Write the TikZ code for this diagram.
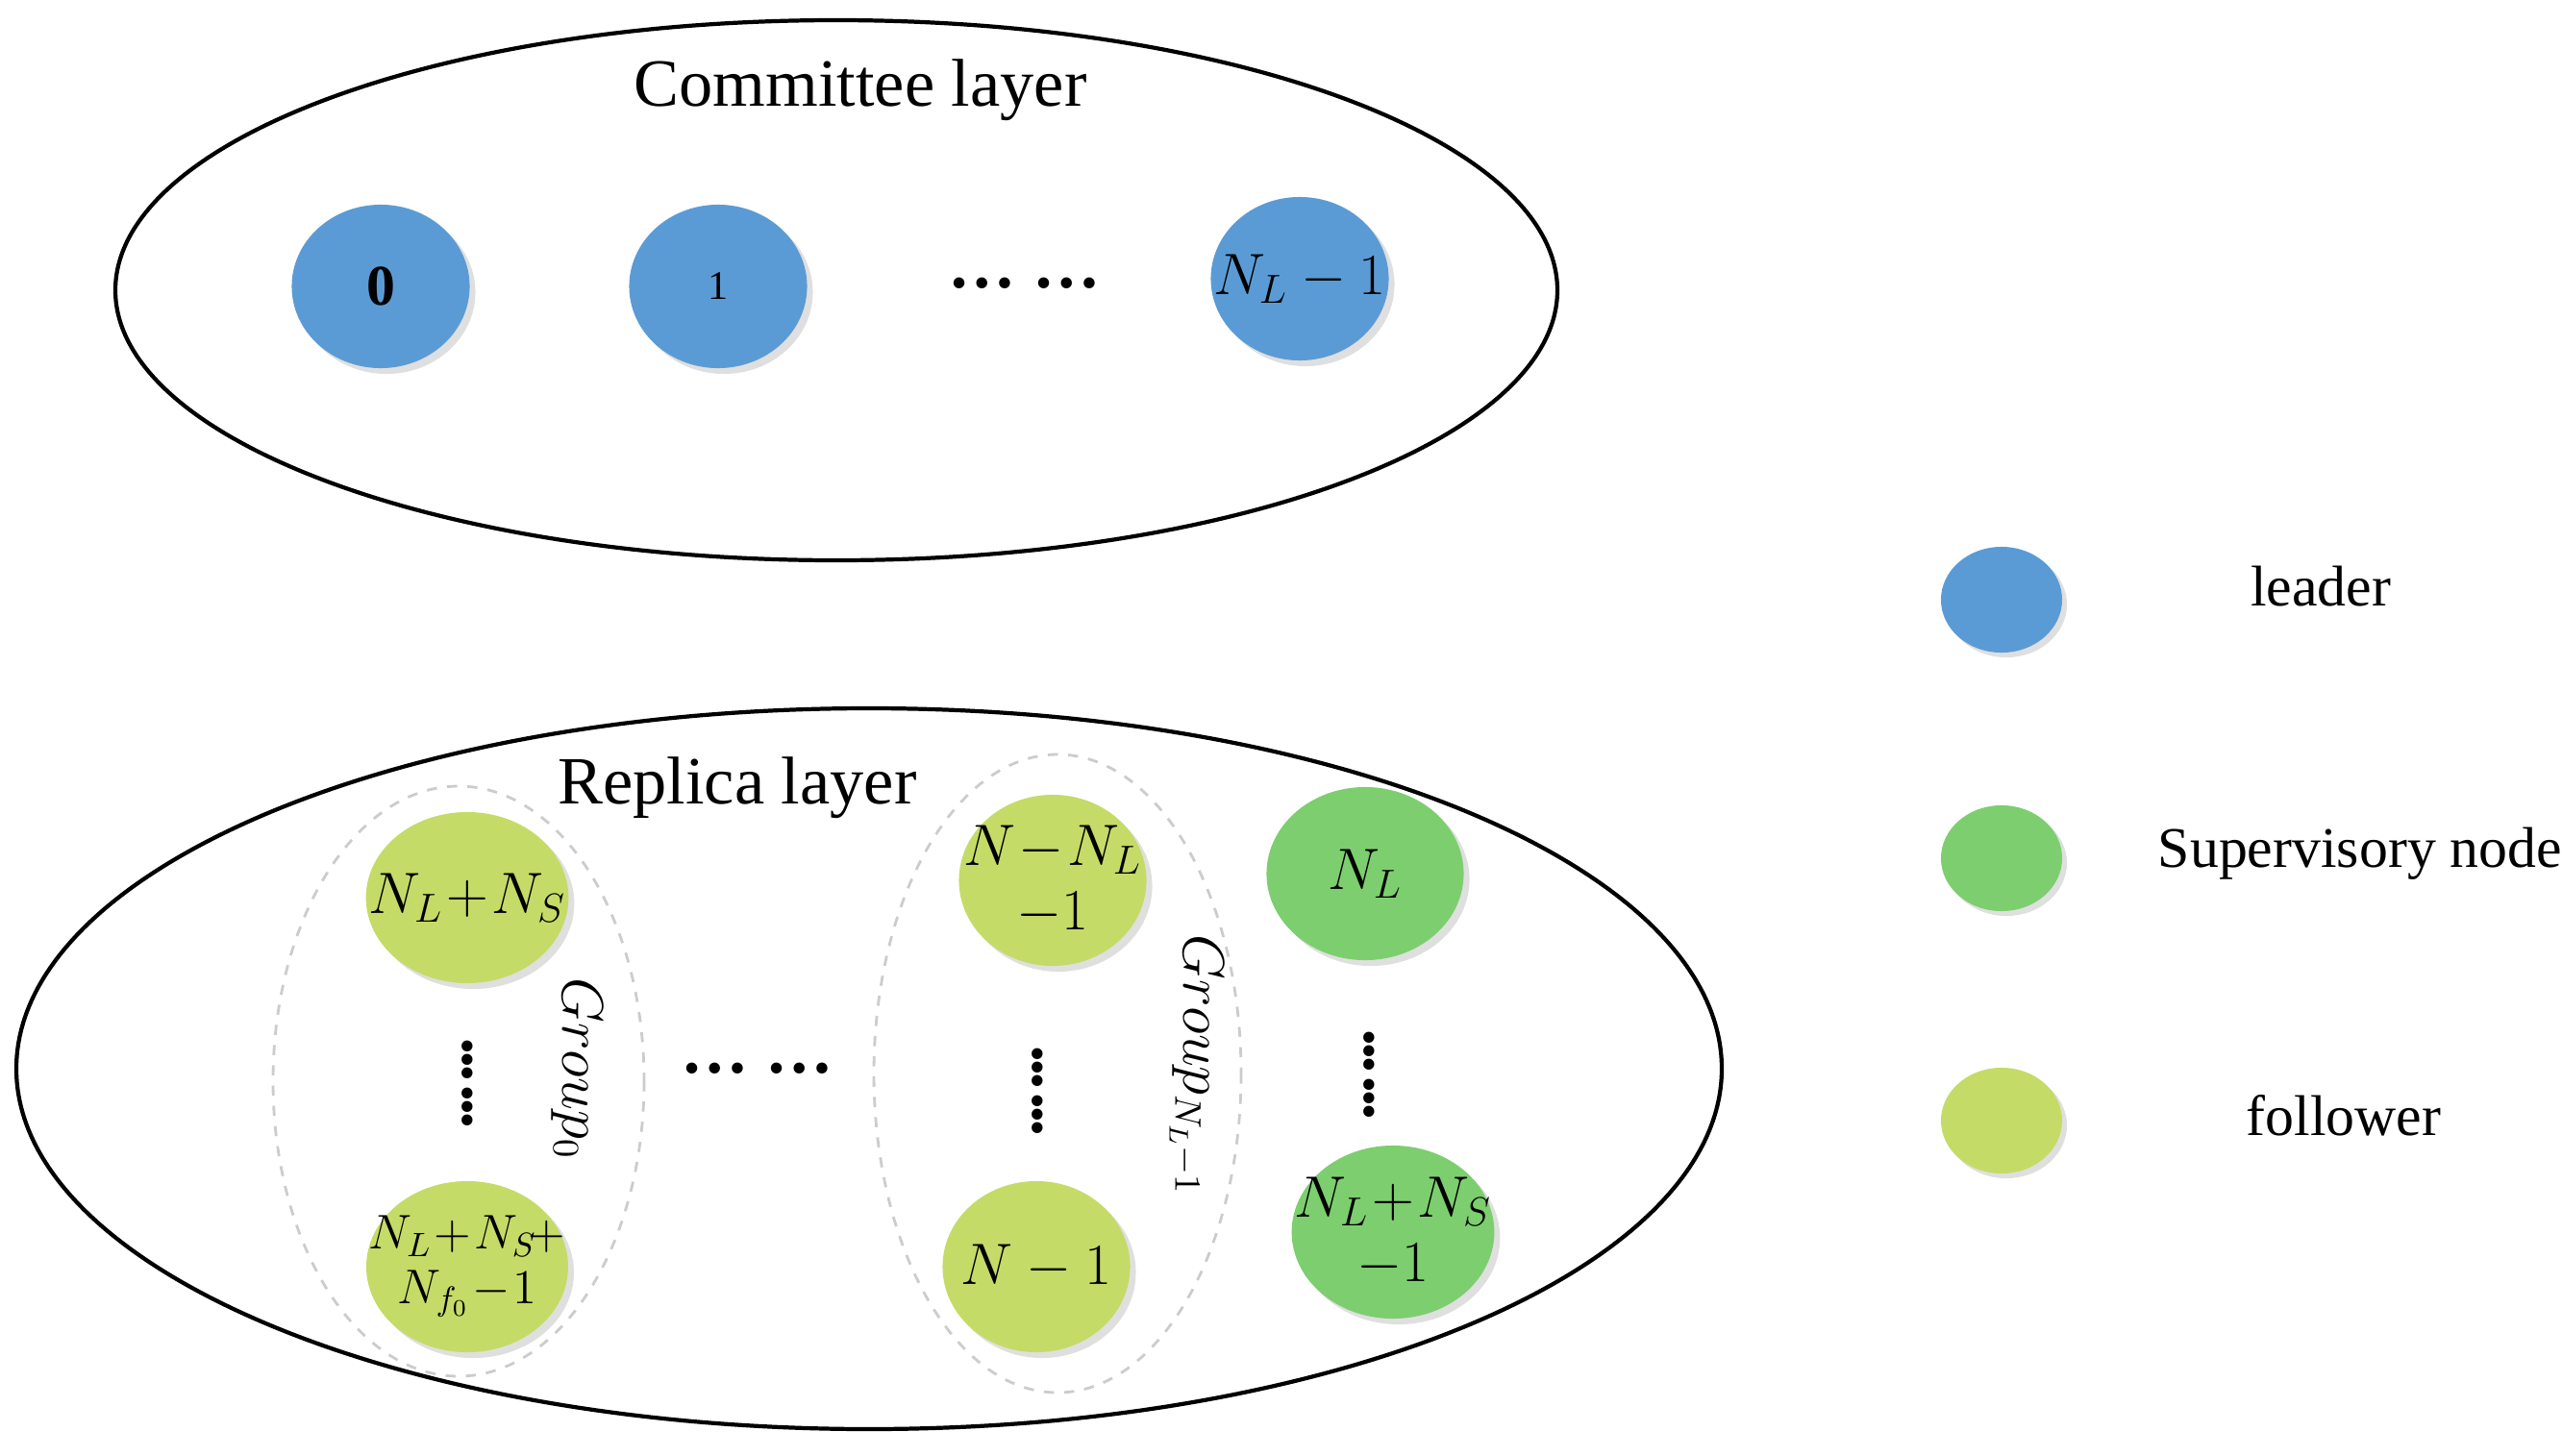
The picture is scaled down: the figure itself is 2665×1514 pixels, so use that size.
\documentclass[tikz,border=0pt]{standalone}
\usepackage{fontspec}
\setmainfont{Liberation Serif}
\usetikzlibrary{shadows,shapes.geometric}
\definecolor{leaderblue}{HTML}{5B9BD5}
\definecolor{supgreen}{HTML}{7DCE6F}
\definecolor{follgreen}{HTML}{C4DB68}
\tikzset{
  group/.style={draw=black!20, dashed, line width=0.8pt},
  peer/.style={ellipse, minimum width=1.85cm, minimum height=1.7cm, inner sep=-8pt, align=center,
    font=\fontsize{17}{19}\selectfont, drop shadow={shadow xshift=0.06cm, shadow yshift=-0.06cm, opacity=0.25}},
  leader/.style={peer, fill=leaderblue},
  supervisor/.style={peer, fill=supgreen, minimum width=2.05cm, minimum height=1.8cm},
  follower/.style={peer, fill=follgreen, minimum width=1.95cm, minimum height=1.78cm},
  key/.style={ellipse, minimum width=1.26cm, minimum height=1.1cm, drop shadow={shadow xshift=0.05cm, shadow yshift=-0.05cm, opacity=0.25}},
  caption/.style={font=\fontsize{20}{24}\selectfont},
  glabel/.style={font=\fontsize{16}{18}\selectfont},
  keytext/.style={font=\fontsize{17}{20}\selectfont},
  dots/.style={font=\fontsize{20}{20}\selectfont\bfseries, align=center},
}
\begin{document}
\begin{tikzpicture}[x=0.01cm, y=-0.01cm]
  \useasboundingbox (0,0) rectangle (2665,1514);
  % committee layer
  \draw[line width=1.2pt] (870,302) ellipse [x radius=750, y radius=281];
  \node[caption] (committee) at (895,94) {Committee layer};
  \node[leader] (l0) at (396,298) {$\mathbf{0}$};
  \node[leader] (l1) at (747,298) {\fontsize{12}{12}\selectfont 1};
  \node[dots] (ldots) at (1066,295) {\dots\ \dots};
  \node[leader] (ln) at (1352,290) {$N_L-1$};
  % replica layer
  \draw[line width=1.2pt] (904,1112) ellipse [x radius=887, y radius=375];
  \node[caption] (replica) at (767,820) {Replica layer};
  \draw[group] (477,1125) ellipse [x radius=193, y radius=307];
  \draw[group] (1100,1117) ellipse [x radius=191, y radius=332];
  \node[follower] (f0) at (486,934) {$N_L\!+\!N_S$};
  \node[follower, font=\fontsize{14}{16}\selectfont] (f0n) at (486,1318) {$N_L\!+\!N_S\!+$\\$N_{f_0}\!-\!1$};
  \node[follower] (fk) at (1095,916) {$N\!-\!N_L$\\$-1$};
  \node[follower] (fkn) at (1078,1318) {$N-1$};
  \node[supervisor] (s0) at (1420,909) {$N_L$};
  \node[supervisor] (sn) at (1449,1282) {$N_L\!+\!N_S$\\$-1$};
  \node[dots] (d0) at (486,1117) {$\vdots$\\[-6pt]$\vdots$};
  \node[dots] (dk) at (1079,1125) {$\vdots$\\[-6pt]$\vdots$};
  \node[dots] (ds) at (1424,1108) {$\vdots$\\[-6pt]$\vdots$};
  \node[dots] (rdots) at (788,1112) {\dots\ \dots};
  \node[glabel, rotate=-90] (g0) at (600,1112) {$Group_0$};
  \node[glabel, rotate=-90] (gk) at (1245,1108) {$Group_{N_L-1}$};
  % legend
  \node[key, fill=leaderblue] (kl) at (2082,624) {};
  \node[key, fill=supgreen] (ks) at (2082,893) {};
  \node[key, fill=follgreen] (kf) at (2082,1166) {};
  \node[keytext] (tl) at (2414,610) {leader};
  \node[keytext] (ts) at (2455,888) {Supervisory node};
  \node[keytext] (tf) at (2438,1161) {follower};
\end{tikzpicture}
\end{document}
